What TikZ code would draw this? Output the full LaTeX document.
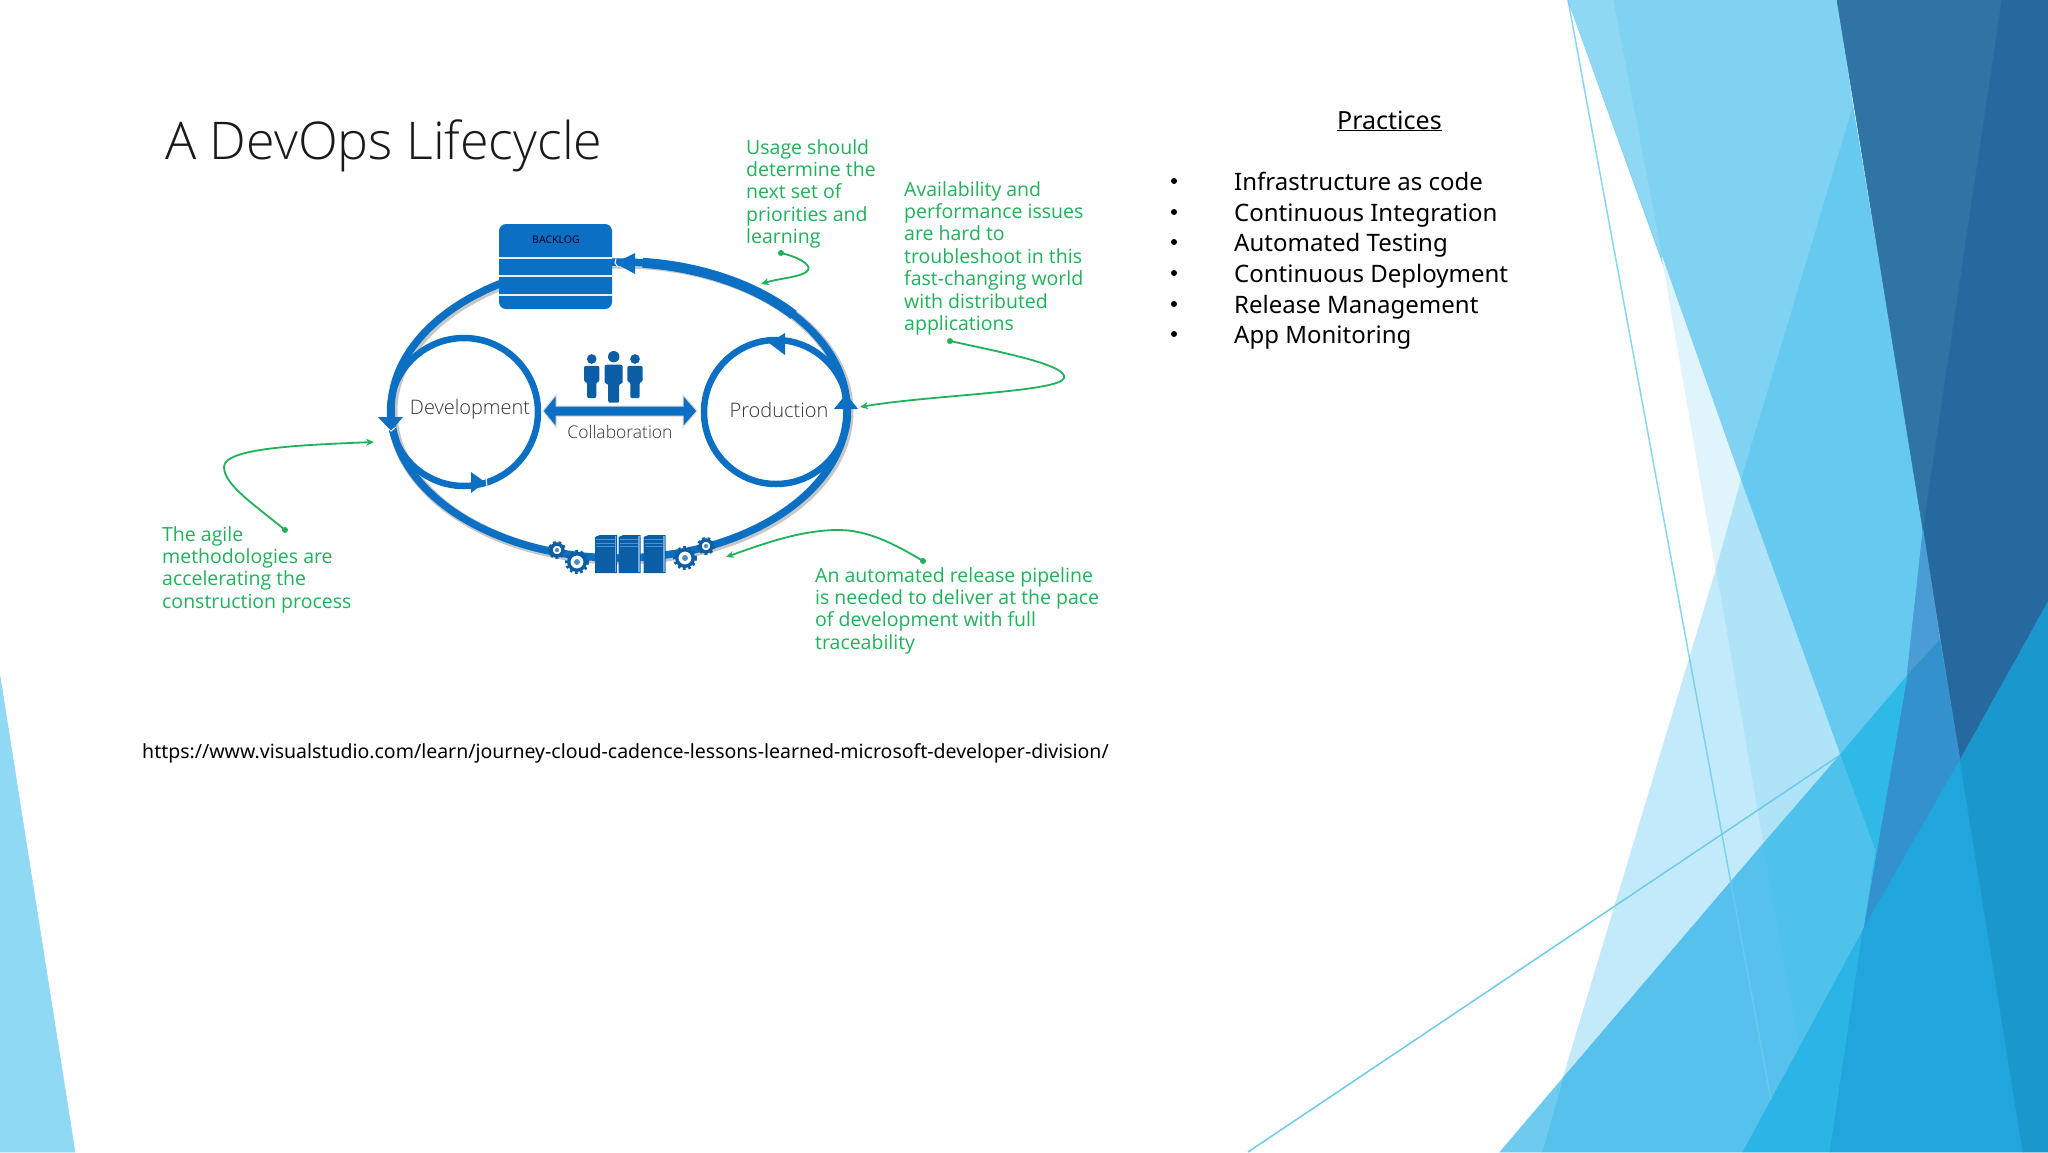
\documentclass[tikz,border=0pt]{standalone}
\usepackage{fontspec}
\usetikzlibrary{arrows.meta}
\setmainfont{Noto Sans}
\newfontfamily\lightf{Open Sans}
\newfontfamily\titlef{Open Sans Light}
\newfontfamily\slidef{Noto Sans}
\definecolor{ringblue}{HTML}{0B6FC4}
\definecolor{deepblue}{HTML}{0B5DA6}
\definecolor{leaf}{HTML}{1FB25A}
\definecolor{LeftF}{HTML}{90D9F4}
\definecolor{Upper}{HTML}{7FD2F2}
\definecolor{Strip}{HTML}{8FD8F4}
\definecolor{Medium}{HTML}{65C9F0}
\definecolor{Pale}{HTML}{E0F4FC}
\definecolor{Soft}{HTML}{AEE3F8}
\definecolor{Softer}{HTML}{C3EAFA}
\definecolor{DarkA}{HTML}{2F74A5}
\definecolor{DarkB}{HTML}{26699F}
\definecolor{MidA}{HTML}{4A9CD4}
\definecolor{MidB}{HTML}{3391CD}
\definecolor{BandA}{HTML}{56C1EC}
\definecolor{BandB}{HTML}{4FC2EC}
\definecolor{BandC}{HTML}{6ECBEF}
\definecolor{BandD}{HTML}{2FB9E7}
\definecolor{LowA}{HTML}{2BB5E6}
\definecolor{LowB}{HTML}{20A5DC}
\definecolor{LowC}{HTML}{1A97CD}
\definecolor{Thin}{HTML}{6CCCF0}
\tikzset{
  facet/.style={fill=#1,draw=#1,line width=0.6pt},
  ring/.style={draw=ringblue,line width=7.5pt},
  ringshadow/.style={draw=black,opacity=0.22,line width=10pt},
  note/.style={font=\lightf\fontsize{19.5}{22.4}\selectfont,text=leaf,align=left,anchor=north west,inner sep=0pt},
  grey label/.style={font=\titlef\fontsize{#1}{#1}\selectfont,text=black!80,inner sep=0pt},
  leader/.style={draw=leaf,line width=1.8pt,-{Stealth[length=8pt,width=7pt]}},
  leaderdot/.style={fill=leaf,draw=none},
  practice/.style={font=\slidef\fontsize{24}{24}\selectfont,text=black,anchor=base west,inner sep=0pt},
  thin facet/.style={draw=#1,line width=1.5pt},
  person/.pic={
    \fill[deepblue] (0,0) circle (5.7);
    \fill[deepblue,rounded corners=2pt] (-9,8) -- (9,8) -- (9,27) -- (5.5,27) -- (5.5,46) -- (-5.5,46) -- (-5.5,27) -- (-9,27) -- cycle;
  },
  server/.pic={
    \fill[deepblue] (-11,-17) -- (-6,-19) -- (11,-19) -- (11,19) -- (-11,19) -- cycle;
    \fill[ringblue!75!white] (-10,-15) rectangle (9,-13.6);
    \fill[ringblue!75!white] (-10,-11.5) rectangle (9,-10.1);
    \fill[ringblue!75!white] (-10,-8) rectangle (9,-6.6);
    \fill[ringblue!60!white] (8.5,-18) rectangle (10,18);
  },
  gear/.pic={
    \draw[deepblue,line width=2.6pt,dash pattern=on 2.7pt off 2.7pt] (0,0) circle (8.6);
    \draw[deepblue,fill=white,line width=3.4pt] (0,0) circle (6.6);
    \fill[deepblue!70!white] (0,0) circle (2.4);
  }
}
\newcommand{\gearat}[3]{\pic[scale=#3,transform shape] at (#1,#2) {gear};}
\begin{document}
\begin{tikzpicture}[x=1pt,y=-1pt]
\useasboundingbox (0,0) rectangle (2048,1152);
\fill[white] (0,0) rectangle (2048,1152);
% left facet
\path[facet=LeftF] (0,676) -- (75,1152) -- (0,1152) -- cycle;
% upper right facets
\path[facet=Upper] (1568,0) -- (1837,0) -- (1853,107) -- (1741,481) -- cycle;
\path[facet=Strip] (1568,0) -- (1613,0) -- (1662,257) -- cycle;
\path[facet=Medium] (1853,107) -- (1925,540) -- (1907,676) -- (1840,755) -- (1741,481) -- cycle;
\path[facet=Pale] (1662,257) -- (1741,481) -- (1716,570) -- cycle;
\path[facet=Soft] (1741,481) -- (1840,755) -- (1763,844) -- (1716,570) -- cycle;
\path[facet=Softer] (1716,570) -- (1763,844) -- (1563,1078) -- cycle;
\path[facet=DarkA] (1837,0) -- (2002,0) -- (1923,530) -- cycle;
\path[facet=DarkB] (2002,0) -- (2048,0) -- (2048,602) -- (1960,760) -- (1923,530) -- cycle;
\path[facet=MidA] (1923,530) -- (1940,640) -- (1907,676) -- cycle;
\path[facet=MidB] (1907,676) -- (1940,640) -- (1960,760) -- (1863,930) -- cycle;
% lower band
\path[facet=BandA] (1563,1078) -- (1763,844) -- (1800,1050) -- (1743,1152) -- (1542,1152) -- cycle;
\path[facet=BandD] (1840,755) -- (1907,676) -- (1863,930) -- cycle;
\path[facet=BandB] (1763,844) -- (1840,755) -- (1875,850) -- (1863,930) -- (1800,1050) -- cycle;
\path[facet=BandC] (1500,1152) -- (1563,1078) -- (1542,1152) -- cycle;
% lower right triangle
\path[facet=LowA] (1863,930) -- (1743,1152) -- (1830,1152) -- cycle;
\path[facet=LowB] (1863,930) -- (1960,760) -- (2023,1152) -- (1830,1152) -- cycle;
\path[facet=LowC] (1960,760) -- (2048,602) -- (2048,1152) -- (2023,1152) -- cycle;
% thin lines
\draw[thin facet=Thin,opacity=0.8] (1568,0) -- (1771,1100);
\draw[thin facet=Thin] (1248,1152) -- (1840,755);

% title
\node[anchor=base west,inner sep=0pt,font=\titlef\fontsize{52}{52}\selectfont,text=black!90] (title) at (165,159) {A DevOps Lifecycle};

% main cycle
\draw[ringshadow,xshift=1.5pt,yshift=-1.5pt] (619,410) ellipse [x radius=228,y radius=148];
\draw[ring] (619,410) ellipse [x radius=228,y radius=148];
\draw[ring,line width=10pt] (619,410) ++(-84:228 and 148) arc[start angle=-84,end angle=-40,x radius=228,y radius=148];
\draw[ring,line width=6.5pt] (464,412) circle (74);
\draw[ring,line width=6.5pt] (776,412) circle (72);

% backlog
\node[fill=ringblue,rounded corners=7pt,minimum width=113pt,minimum height=85pt,inner sep=0pt,draw=none] (backlog) at (555.5,266.5) {};
\foreach \yy in {258,276,295} \fill[black!8] (499,\yy-1.2) rectangle (612,\yy+1.2);
\node[font=\slidef\bfseries\fontsize{10.5}{10.5}\selectfont,text=black!85!blue,inner sep=0pt] (backlogtext) at (556,240) {BACKLOG};

% arrowheads
\fill[ringblue] (615,263) -- (635,253) -- (635,274) -- cycle;
\draw[white,line width=1pt] (616,259) -- (615,263) -- (618,267);
\fill[ringblue] (391,431) -- (378,417) -- (403,417) -- cycle;
\draw[white,line width=1pt] (386,427) -- (391,431) -- (396,427);
\fill[ringblue] (846,394) -- (834,409) -- (858,409) -- cycle;
\fill[ringblue] (485,482) -- (471,472) -- (471,493) -- cycle;
\fill[ringblue] (769,343) -- (785,333) -- (785,355) -- cycle;
\draw[white,line width=1pt] (486,477) -- (487,487);

% collaboration
\draw[draw=black!15,fill=ringblue,line width=1pt] (543,411) -- (556,395) -- (556,406) -- (683,406) -- (683,395) -- (697,411) -- (683,427) -- (683,416) -- (556,416) -- (556,427) -- cycle;
\node[grey label=17.5] (collab) at (620,432) {Collaboration};
\node[grey label=20] (dev) at (470,409) {Development};
\node[grey label=20] (prod) at (779,410) {Production};

% people
\pic[scale=0.85,transform shape] at (591.7,359) {person};
\pic[scale=0.85,transform shape] at (635,359) {person};
\pic at (613.7,356.7) {person};

% pipeline
\pic at (606,554) {server};
\pic at (629.5,554) {server};
\pic at (654.5,554) {server};
\gearat{557}{550}{0.9}
\gearat{577}{562}{1.25}
\gearat{685}{558}{1.25}
\gearat{706}{546}{0.9}

% notes
\node[note] (usage) at (746,139) {Usage should\\determine the\\next set of\\priorities and\\learning};
\node[note] (avail) at (904,181) {Availability and\\performance issues\\are hard to\\troubleshoot in this\\fast-changing world\\with distributed\\applications};
\node[note] (agile) at (162,526) {The agile\\methodologies are\\accelerating the\\construction process};
\node[note] (pipe) at (815,567) {An automated release pipeline\\is needed to deliver at the pace\\of development with full\\traceability};

% leaders
\coordinate (usagedot) at (781,253);
\coordinate (usagetip) at (761,284);
\coordinate (availdot) at (950,341);
\coordinate (availtip) at (860,407);
\coordinate (agiledot) at (285,530);
\coordinate (agiletip) at (374,442);
\coordinate (pipedot) at (923,561);
\coordinate (pipetip) at (726,557);
\fill[leaderdot] (usagedot) circle (3);
\fill[leaderdot] (availdot) circle (3);
\fill[leaderdot] (agiledot) circle (3);
\fill[leaderdot] (pipedot) circle (3);
\draw[leader] (usagedot) .. controls (795,256) and (812,264) .. (808,270) .. controls (804,277) and (780,278) .. (usagetip);
\draw[leader] (availdot) .. controls (1000,352) and (1068,365) .. (1064,378) .. controls (1060,392) and (930,395) .. (availtip);
\draw[leader] (agiledot) .. controls (255,505) and (224,485) .. (224,467) .. controls (224,448) and (300,445) .. (agiletip);
\draw[leader] (pipedot) .. controls (890,541) and (865,530) .. (838,530) .. controls (800,530) and (760,545) .. (pipetip);

% url
\node[anchor=base west,inner sep=0pt,font=\slidef\fontsize{19.5}{19.5}\selectfont,text=black] (url) at (142,758) {https://www.visualstudio.com/learn/journey-cloud-cadence-lessons-learned-microsoft-developer-division/};

% practices
\node[anchor=base west,inner sep=0pt,font=\slidef\fontsize{25}{25}\selectfont,text=black] (practices) at (1337,129) {\underline{Practices}};
\foreach \yy/\tx [count=\i] in {190/Infrastructure as code,221/Continuous Integration,251/Automated Testing,282/Continuous Deployment,313/Release Management,343/App Monitoring}{
  \node[practice] (item\i) at (1234,\yy) {\tx};
  \fill[black] (1174,\yy-9) circle (3) coordinate (bullet\i);
}
\end{tikzpicture}
\end{document}
